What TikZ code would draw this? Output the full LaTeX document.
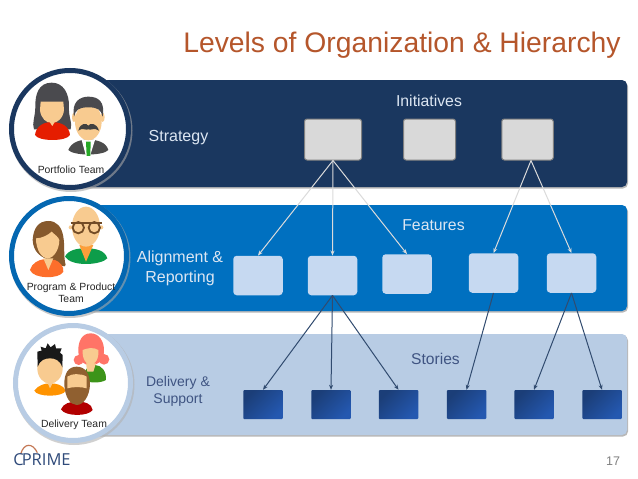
\documentclass[tikz,border=0pt]{standalone}
\usepackage{fontspec}
\setmainfont{Liberation Sans}
\newfontfamily\logofont{Open Sans}
\usetikzlibrary{arrows.meta,shadings}
\definecolor{navy}{HTML}{1A375F}
\definecolor{midblue}{HTML}{0070C0}
\definecolor{paleblue}{HTML}{B8CCE4}
\definecolor{featbox}{HTML}{C6D9F1}
\definecolor{initbox}{HTML}{D9D9D9}
\definecolor{titlecol}{HTML}{B5562B}
\definecolor{storytext}{HTML}{3F5482}
\definecolor{lighttext}{HTML}{DCE6F2}
\definecolor{skin}{HTML}{F8CB90}
\definecolor{darkhair}{HTML}{4A4A4E}
\definecolor{storystart}{HTML}{1B3E78}
\definecolor{storyend}{HTML}{2458B0}
\definecolor{logoblue}{HTML}{2F4A7A}
\tikzset{
  x=1pt,y=-1pt,
  band/.style={rounded corners=5pt},
  shadowband/.style={rounded corners=5pt,fill=black!28},
  initnode/.style={draw=black!50,line width=1pt,fill=initbox,rounded corners=2.5pt,minimum height=41pt,inner sep=0pt},
  featnode/.style={fill=featbox,rounded corners=3.5pt,minimum width=49.5pt,minimum height=39.5pt,inner sep=0pt},
  storynode/.style={top color=storystart,bottom color=storyend,shading angle=45,rounded corners=1pt,minimum width=39.5pt,minimum height=29pt,inner sep=0pt},
  lightarrow/.style={draw=black!14,line width=1pt,-{Stealth[length=5pt,width=4pt]}},
  darkarrow/.style={draw=navy!90!white,line width=1pt,-{Stealth[length=5pt,width=4pt]}},
  teamtext/.style={font=\fontsize{10.4}{12.5}\selectfont,align=center,text=black!85,inner sep=0pt},
  bandtext/.style={align=center,inner sep=0pt,font=\fontsize{16}{20}\selectfont},
  ring/.style={fill=white,line width=5pt},
  zoomed/.style={x=.3333pt,y=-.3333pt},
}
\begin{document}
\begin{tikzpicture}
\useasboundingbox (0,0) rectangle (638,479);
\fill[white] (0,0) rectangle (638,479);
% bands
\fill[shadowband] (60,81.5) rectangle (628,188.5);
\fill[band,fill=navy] (60,80) rectangle (627,187);
\fill[shadowband] (60,206.5) rectangle (628,312.5);
\fill[band,fill=midblue] (60,205) rectangle (627,311);
\fill[shadowband] (60,335.5) rectangle (628,436.5);
\fill[band,fill=paleblue] (60,334) rectangle (627,435);
% title
\node[font=\fontsize{28.3}{32}\selectfont,text=titlecol,inner sep=0pt] (title) at (402,45.5) {Levels of Organization \& Hierarchy};
% circle shadows
\fill[black!35,opacity=.6] (71,130.5) circle (61.5);
\fill[black!35,opacity=.6] (70,257.5) circle (60.5);
\fill[black!30,opacity=.6] (74,384.5) circle (60.5);
\draw[ring,draw=navy] (70,129) circle (58.5);
\draw[ring,draw=midblue!85!navy] (69,256) circle (57.5);
\draw[ring,draw=paleblue] (73,383) circle (57.5);
% Portfolio people
\begin{scope}[shift={(0,60)},zoomed]
  \fill[darkhair] (155,68) .. controls (115,68) and (105,105) .. (106,140) .. controls (106,170) and (95,190) .. (102,208) -- (212,208) .. controls (218,190) and (205,170) .. (207,140) .. controls (208,100) and (190,68) .. (155,68) -- cycle;
  \fill[skin] (122,125) -- (190,125) -- (192,150) .. controls (190,175) and (170,190) .. (156,190) .. controls (140,190) and (122,175) .. (120,150) -- cycle;
  \fill[red!75!orange!90!black] (105,225) .. controls (108,200) and (130,185) .. (155,187) .. controls (185,185) and (208,200) .. (210,225) .. controls (200,245) and (115,245) .. (105,225) -- cycle;
  \fill[skin] (145,180) -- (168,180) -- (157,198) -- cycle;
  \fill[black!70] (205,270) .. controls (215,245) and (240,240) .. (265,238) .. controls (290,240) and (318,245) .. (325,270) .. controls (310,288) and (220,288) .. (205,270) -- cycle;
  \fill[white] (245,240) -- (285,240) -- (270,288) -- (258,288) -- cycle;
  \fill[green!60!black!85] (258,245) -- (272,245) -- (271,288) -- (260,288) -- cycle;
  \fill[skin] (222,172) ellipse (6 and 14);
  \fill[skin] (308,172) ellipse (6 and 14);
  \fill[skin] (265,185) ellipse (40 and 56);
  \fill[darkhair] (222,170) .. controls (214,125) and (240,110) .. (265,110) .. controls (295,110) and (316,125) .. (308,170) .. controls (303,150) and (295,142) .. (265,142) .. controls (235,142) and (227,150) .. (222,170) -- cycle;
  \fill[black!75] (235,212) .. controls (240,188) and (260,188) .. (265,197) .. controls (270,188) and (290,188) .. (297,212) .. controls (285,202) and (270,212) .. (265,208) .. controls (260,212) and (245,202) .. (235,212) -- cycle;
\end{scope}
% Program people
\begin{scope}[shift={(0,190)},zoomed]
  \fill[green!40!teal!85!black!95] (195,200) .. controls (205,180) and (230,175) .. (258,175) .. controls (290,175) and (315,182) .. (322,205) .. controls (305,225) and (215,232) .. (195,200) -- cycle;
  \fill[orange!60!skin] (238,165) -- (280,165) -- (258,215) -- cycle;
  \fill[skin] (258,110) ellipse (42 and 60);
  \fill[skin] (212,112) circle (6);
  \fill[skin] (304,112) circle (6);
  \draw[draw=brown!60!black,line width=1.8pt] (235,113) circle (17);
  \draw[draw=brown!60!black,line width=1.8pt] (283,113) circle (17);
  \draw[draw=brown!60!black,line width=1.8pt] (212,100) -- (305,100);
  \fill[brown!70!black] (145,93) .. controls (115,93) and (100,115) .. (98,150) .. controls (100,185) and (120,205) .. (165,215) .. controls (180,225) and (195,235) .. (197,225) .. controls (190,200) and (195,170) .. (190,140) .. controls (185,110) and (170,93) .. (145,93) -- cycle;
  \fill[skin] (108,145) .. controls (125,145) and (145,135) .. (155,125) .. controls (165,135) and (175,140) .. (178,150) .. controls (178,180) and (160,205) .. (143,205) .. controls (125,205) and (108,180) .. (108,145) -- cycle;
  \fill[orange!55!red!70!skin] (90,240) .. controls (95,220) and (115,210) .. (130,208) -- (165,210) .. controls (180,215) and (192,230) .. (190,245) .. controls (180,268) and (100,268) .. (90,240) -- cycle;
  \fill[skin] (130,205) -- (160,205) -- (145,240) -- cycle;
\end{scope}
% Delivery people
\begin{scope}[shift={(0,320)},zoomed]
  \fill[red!55!white!90!orange] (312,118) circle (16);
  \fill[red!55!white!90!orange] (236,120) circle (15);
  \fill[green!55!black!70!olive!90] (250,180) .. controls (250,150) and (265,135) .. (285,135) .. controls (305,135) and (320,155) .. (318,180) .. controls (300,190) and (270,190) .. (250,180) -- cycle;
  \fill[red!55!white!90!orange] (272,40) .. controls (245,40) and (235,65) .. (235,90) .. controls (235,125) and (250,135) .. (272,135) .. controls (295,135) and (312,125) .. (312,90) .. controls (312,65) and (298,40) .. (272,40) -- cycle;
  \fill[skin] (248,90) .. controls (260,85) and (280,80) .. (295,90) .. controls (298,115) and (285,135) .. (272,135) .. controls (258,135) and (246,115) .. (248,90) -- cycle;
  \fill[skin] (258,130) -- (288,130) -- (280,155) -- (262,155) -- cycle;
  \fill[orange!85!yellow] (103,212) .. controls (115,195) and (135,190) .. (150,190) .. controls (170,190) and (190,195) .. (197,212) .. controls (190,232) and (110,232) .. (103,212) -- cycle;
  \fill[skin] (137,175) -- (165,175) -- (150,205) -- cycle;
  \fill[skin] (150,145) ellipse (38 and 46);
  \fill[black!90] (113,140) -- (112,95) -- (125,92) -- (122,80) -- (137,85) -- (143,70) -- (152,82) -- (165,72) -- (168,85) -- (185,85) -- (180,98) -- (188,105) -- (187,142) .. controls (180,120) and (165,115) .. (150,115) .. controls (135,115) and (120,120) .. (113,140) -- cycle;
  \fill[red!70!black] (183,268) .. controls (190,250) and (210,245) .. (230,245) .. controls (255,245) and (275,250) .. (278,270) .. controls (265,290) and (195,290) .. (183,268) -- cycle;
  \fill[brown!75!black] (230,140) .. controls (205,140) and (192,160) .. (193,195) .. controls (195,230) and (210,255) .. (230,255) .. controls (250,255) and (268,230) .. (270,195) .. controls (270,160) and (255,140) .. (230,140) -- cycle;
  \fill[skin] (202,170) .. controls (215,160) and (245,160) .. (260,170) -- (260,205) .. controls (245,200) and (218,200) .. (202,205) -- cycle;
\end{scope}
% team labels
\node[teamtext] (t1) at (71,169.5) {Portfolio Team};
\node[teamtext] (t2) at (71,293) {Program \& Product\\Team};
\node[teamtext] (t3) at (74,425) {Delivery Team};
% band labels
\node[bandtext,text=lighttext] (l1) at (178.5,137.5) {Strategy};
\node[bandtext,text=lighttext] (l2) at (180,268.5) {Alignment \&\\Reporting};
\node[bandtext,text=storytext,font=\fontsize{14}{17.5}\selectfont] (l3) at (178,391.5) {Delivery \&\\Support};
\node[inner sep=0pt,font=\fontsize{15.8}{18}\selectfont,text=lighttext] (h1) at (429,101) {Initiatives};
\node[inner sep=0pt,font=\fontsize{15.8}{18}\selectfont,text=lighttext] (h2) at (433.5,225) {Features};
\node[inner sep=0pt,font=\fontsize{15.6}{18}\selectfont,text=storytext] (h3) at (435.5,358.5) {Stories};
\node[inner sep=0pt,font=\fontsize{12.5}{14}\selectfont,text=black!50] (page) at (613,461) {17};
% boxes
\node[initnode,minimum width=57pt] (b1) at (333,139.5) {};
\node[initnode,minimum width=52pt] (b2) at (429.5,139.5) {};
\node[initnode,minimum width=51.5pt] (b3) at (527.5,139.5) {};
\node[featnode] (f1) at (258,275.5) {};
\node[featnode] (f2) at (332.5,275.5) {};
\node[featnode] (f3) at (407,274) {};
\node[featnode] (f4) at (493.5,273) {};
\node[featnode] (f5) at (571.5,273) {};
\node[storynode] (s1) at (263,404.5) {};
\node[storynode] (s2) at (331,404.5) {};
\node[storynode] (s3) at (398.5,404.5) {};
\node[storynode] (s4) at (466.5,404.5) {};
\node[storynode] (s5) at (534,404.5) {};
\node[storynode] (s6) at (602,404.5) {};
% connectors
\draw[lightarrow] (b1.south) -- (f1.north);
\draw[lightarrow] (b1.south) -- (f2.north);
\draw[lightarrow] (b1.south) -- (f3.north);
\draw[lightarrow] ([xshift=3.5pt]b3.south) -- (f4.north);
\draw[lightarrow] ([xshift=3.5pt]b3.south) -- (f5.north);
\draw[darkarrow] (f2.south) -- (s1.north);
\draw[darkarrow] (f2.south) -- (s2.north);
\draw[darkarrow] (f2.south) -- (s3.north);
\draw[darkarrow] (f4.south) -- (s4.north);
\draw[darkarrow] (f5.south) -- (s5.north);
\draw[darkarrow] (f5.south) -- (s6.north);
% logo
\begin{scope}[shift={(0,320)},zoomed]
  \coordinate (arcA) at (62,402);
  \coordinate (arcB) at (112,398);
  \draw[draw=titlecol!80,line width=1.2pt] (arcA) .. controls (72,368) and (98,368) .. (arcB);
\end{scope}
\node[inner sep=0pt,text=logoblue,font=\logofont\fontsize{16.5}{18}\selectfont] (logo) at (42,460) {C\kern-2ptPRIME};
\end{tikzpicture}
\end{document}
